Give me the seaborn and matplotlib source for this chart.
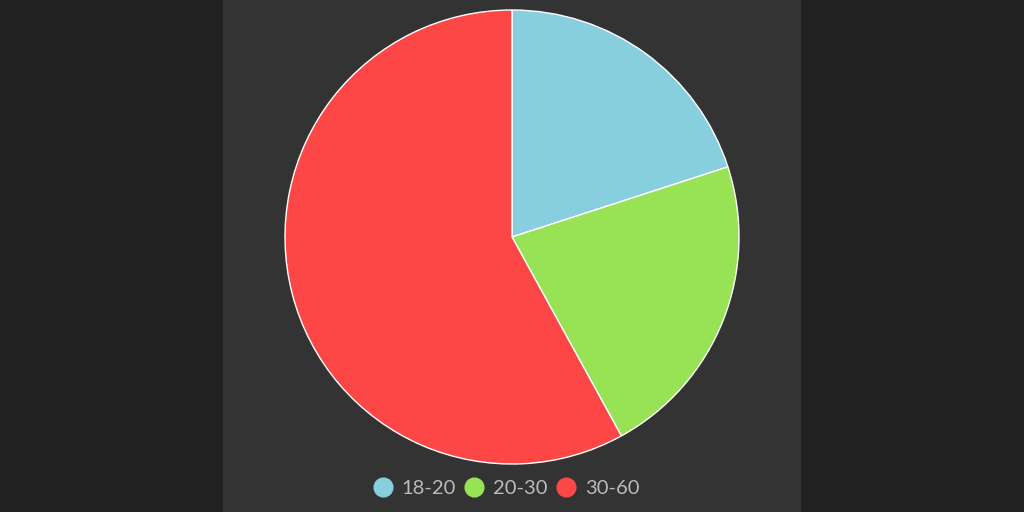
import numpy as np
import seaborn as sns
import matplotlib
matplotlib.use('Agg')
from matplotlib import pyplot as plt
from matplotlib.lines import Line2D

# age groups and their shares
labels = ['18-20', '20-30', '30-60']
shares = [20, 22, 58]
colors = ['#87CEDF', '#98E255', '#FD4646']

sns.set_theme(style='dark')
plt.rcParams['font.family'] = ['Lato', 'DejaVu Sans']

W, H = 1024, 512
fig = plt.figure(figsize=(W / 100, H / 100), dpi=100, facecolor='#222222')

# central panel
panel = fig.add_axes([223 / W, 0, 578 / W, 1])
panel.set_facecolor('#333333')
panel.set_xticks([])
panel.set_yticks([])
for s in panel.spines.values():
    s.set_visible(False)

# pie axes: centre (512,237) radius 227 px
r = 227
cx, cy = 512, 237
ax = fig.add_axes([(cx - r) / W, (H - cy - r) / H, 2 * r / W, 2 * r / H])
ax.set_facecolor('none')
ax.pie(shares, colors=colors, startangle=90, counterclock=False, radius=1,
       wedgeprops=dict(edgecolor='white', linewidth=1.0), frame=False)
ax.set_xlim(-1, 1)
ax.set_ylim(-1, 1)
ax.axis('off')

handles = [Line2D([0], [0], marker='o', linestyle='none', markersize=13.5,
                  markerfacecolor=c, markeredgecolor=c) for c in colors]
leg = fig.legend(handles, labels, loc='center', bbox_to_anchor=(506 / W, 24 / H),
                 ncol=3, frameon=False, fontsize=14.5, handletextpad=0.45,
                 columnspacing=0.4, handlelength=1.0)
for t in leg.get_texts():
    t.set_color('#BBBBBB')

fig.savefig('out.png', dpi=100, facecolor=fig.get_facecolor())
